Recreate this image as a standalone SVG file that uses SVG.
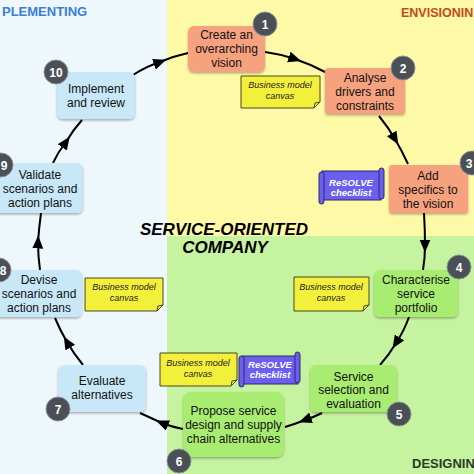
<svg xmlns="http://www.w3.org/2000/svg" width="474" height="474" viewBox="0 0 474 474">
<defs>
<style>
text{font-family:"Liberation Sans",Arial,sans-serif}
.nt{font-size:12px;fill:#111;text-anchor:middle}
.or{fill:#f7a27f}
.bl{fill:#c8e8f8}
.gr{fill:#a9ec72}
.node{filter:url(#sh)}
.badge circle{fill:#4a5056;stroke:#8a9096;stroke-width:1}
.badge text{fill:#fff;font-weight:bold;font-size:12px;text-anchor:middle}
.note path{fill:#f3f03c;stroke:#4a4620;stroke-width:1}
.note text{font-size:9px;font-style:italic;fill:#222;text-anchor:middle}
.scroll rect{fill:#6c5ff0;stroke:#2c2a60;stroke-width:1}
.scroll text{font-size:9.5px;font-style:italic;font-weight:bold;fill:#fff;text-anchor:middle}
.conn path{fill:none;stroke:#000;stroke-width:2;marker-mid:url(#ah)}
.phase{font-size:13px;font-weight:bold}
.title{font-size:17px;font-weight:bold;font-style:italic;fill:#000;text-anchor:middle}
</style>
<filter id="sh" x="-10%" y="-10%" width="120%" height="130%">
<feDropShadow dx="0" dy="1.5" stdDeviation="1" flood-color="#000" flood-opacity="0.3"/>
</filter>
<marker id="ah" markerWidth="15" markerHeight="12" refX="6.5" refY="5.5" orient="auto" markerUnits="userSpaceOnUse">
<path d="M0,0 L13,5.5 L0,11 Z" fill="#000"/>
</marker>
</defs>
<g id="background">
<rect x="0" y="0" width="167" height="474" fill="#eef7fc"/>
<rect x="167" y="0" width="307" height="236" fill="#fdf9a6"/>
<rect x="167" y="236" width="307" height="238" fill="#c6f3a0"/>
<text class="phase" x="2" y="16" fill="#3a7ed6">PLEMENTING</text>
<text class="phase" x="401" y="17" fill="#c44a1e" style="font-size:12.5px">ENVISIONIN</text>
<text class="phase" x="412" y="468" fill="#2a3a2a">DESIGNIN</text>
<text class="title" x="224" y="235">SERVICE-ORIENTED</text>
<text class="title" x="225" y="253">COMPANY</text>
</g>
<g id="connectors" class="conn">
<path d="M133,75 Q147,66 160,62 Q174,56 188,53"/>
<path d="M265,52 Q280,54 295,59 Q310,64 325,72"/>
<path d="M379,116 Q388,127 395,139 Q402,151 408,164"/>
<path d="M424,213 Q425,230 425,246 Q425,258 423,270"/>
<path d="M409,317 Q404,331 396,343 Q389,355 380,365"/>
<path d="M322,413 Q314,417 305,420 Q295,424 285,427"/>
<path d="M183,429 Q172,427 162,423 Q151,418 140,413"/>
<path d="M83,365 Q74,354 67,342 Q60,330 55,318"/>
<path d="M40,270 Q38,256 38,242 Q39,228 41,213"/>
<path d="M53,163 Q58,152 66,142 Q73,130 82,120"/>
</g>
<g id="n1"><rect class="node or" x="188" y="26" width="77" height="46" rx="6"/>
<text class="nt" x="226.5" y="38.5">Create an</text><text class="nt" x="226.5" y="52.5">overarching</text><text class="nt" x="226.5" y="66.5">vision</text>
<g class="badge"><circle cx="265" cy="24" r="12"/><text x="265" y="28.5">1</text></g></g>
<g id="n2"><rect class="node or" x="325" y="68" width="80" height="46" rx="3"/>
<text class="nt" x="365" y="81.5">Analyse</text><text class="nt" x="365" y="95.5">drivers and</text><text class="nt" x="365" y="109.5">constraints</text>
<g class="badge"><circle cx="403" cy="68" r="12"/><text x="403" y="72.5">2</text></g></g>
<g id="n3"><rect class="node or" x="389" y="165" width="79" height="48" rx="3"/>
<text class="nt" x="428" y="179.5">Add</text><text class="nt" x="428" y="193.5">specifics to</text><text class="nt" x="428" y="207.5">the vision</text>
<g class="badge"><circle cx="472" cy="163" r="12"/><text x="469" y="167.5">3</text></g></g>
<g id="n4"><rect class="node gr" x="374" y="270" width="84" height="47" rx="6"/>
<text class="nt" x="416" y="284">Characterise</text><text class="nt" x="416" y="298">service</text><text class="nt" x="416" y="312">portfolio</text>
<g class="badge"><circle cx="459" cy="267" r="12"/><text x="459" y="271.5">4</text></g></g>
<g id="n5"><rect class="node gr" x="310" y="365" width="87" height="47" rx="6"/>
<text class="nt" x="353.5" y="380.5">Service</text><text class="nt" x="353.5" y="394">selection and</text><text class="nt" x="353.5" y="407.5">evaluation</text>
<g class="badge"><circle cx="399" cy="414" r="12"/><text x="399" y="418.5">5</text></g></g>
<g id="n6"><rect class="node gr" x="183" y="392" width="101" height="65" rx="8"/>
<text class="nt" x="233.5" y="414.5">Propose service</text><text class="nt" x="233.5" y="428.5">design and supply</text><text class="nt" x="233.5" y="442.5">chain alternatives</text>
<g class="badge"><circle cx="179" cy="461" r="12"/><text x="179" y="465.5">6</text></g></g>
<g id="n7"><rect class="node bl" x="58" y="365" width="88" height="47" rx="6"/>
<text class="nt" x="102" y="385">Evaluate</text><text class="nt" x="102" y="398.5">alternatives</text>
<g class="badge"><circle cx="58" cy="409" r="12"/><text x="58" y="413.5">7</text></g></g>
<g id="n8"><rect class="node bl" x="-6" y="270" width="88" height="47" rx="6"/>
<text class="nt" x="39" y="284">Devise</text><text class="nt" x="39" y="298">scenarios and</text><text class="nt" x="39" y="312">action plans</text>
<g class="badge"><circle cx="-1" cy="270" r="12"/><text x="3" y="274.5">8</text></g></g>
<g id="n9"><rect class="node bl" x="-6" y="163" width="89" height="50" rx="6"/>
<text class="nt" x="40" y="179">Validate</text><text class="nt" x="40" y="193">scenarios and</text><text class="nt" x="40" y="207">action plans</text>
<g class="badge"><circle cx="1" cy="165" r="12"/><text x="4" y="169.5">9</text></g></g>
<g id="n10"><rect class="node bl" x="57" y="72" width="78" height="47" rx="6"/>
<text class="nt" x="96" y="92.5">Implement</text><text class="nt" x="96" y="106.5">and review</text>
<g class="badge"><circle cx="56" cy="72" r="12"/><text x="56" y="76.5">10</text></g></g>
<g id="note-a" class="note"><path d="M241,76 H320 V102 L314,108 H241 Z M314,108 L315,103 L320,102"/>
<text x="280" y="88">Business model</text><text x="280" y="99">canvas</text></g>
<g id="note-b" class="note"><path d="M85,278 H163 V305 L157,311 H85 Z M157,311 L158,306 L163,305"/>
<text x="124" y="290">Business model</text><text x="124" y="301">canvas</text></g>
<g id="note-c" class="note"><path d="M294,277 H369 V305 L363,311 H294 Z M363,311 L364,306 L369,305"/>
<text x="331" y="290">Business model</text><text x="331" y="300.5">canvas</text></g>
<g id="note-d" class="note"><path d="M160,353 H237 V380 L231,386 H160 Z M231,386 L232,381 L237,380"/>
<text x="198" y="366">Business model</text><text x="198" y="376.5">canvas</text></g>
<g id="scroll-a" class="scroll"><rect x="322" y="171" width="59" height="29"/><rect x="319" y="172" width="5" height="32" rx="2.5"/><rect x="379" y="168" width="5" height="31" rx="2.5"/>
<text x="351" y="185.5">ReSOLVE</text><text x="351" y="196">checklist</text></g>
<g id="scroll-b" class="scroll"><rect x="242" y="356" width="56" height="28"/><rect x="239" y="356" width="5" height="31" rx="2.5"/><rect x="295" y="352" width="5" height="31" rx="2.5"/>
<text x="270" y="367.5">ReSOLVE</text><text x="270" y="378">checklist</text></g>
</svg>
